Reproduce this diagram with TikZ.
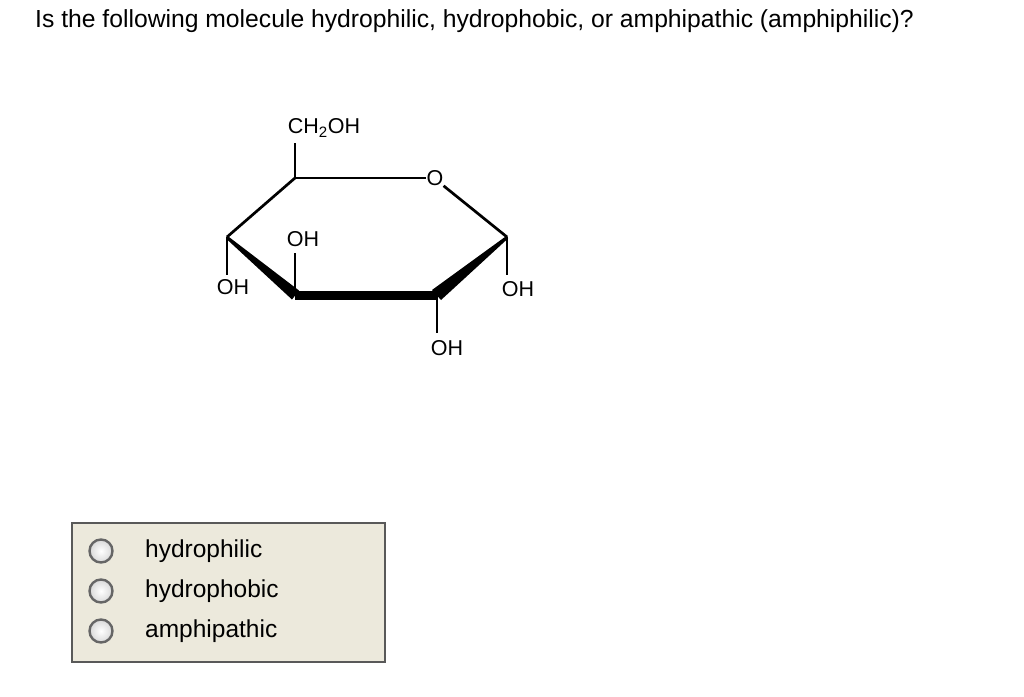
\documentclass[tikz,border=0pt]{standalone}
\usepackage{fontspec}
\setmainfont{Liberation Sans}
\begin{document}
\begin{tikzpicture}[x=1pt,y=-1pt,
  lbl/.style={inner sep=0pt,font=\fontsize{21.5}{24}\selectfont},
  opt/.style={inner sep=0pt,anchor=west,font=\fontsize{24.5}{27}\selectfont},
  bond/.style={line width=2.7pt},
  radio/.style={circle,minimum size=23pt,inner sep=0pt,draw=gray!80!black,line width=2.4pt,inner color=white,outer color=gray!30}]
\useasboundingbox (0,0) rectangle (1024,696);
\node[anchor=west,inner sep=0pt,font=\fontsize{24.7}{28}\selectfont] (title) at (35,21) {Is the following molecule hydrophilic, hydrophobic, or amphipathic (amphiphilic)?};
% ring atoms
\coordinate (c5) at (295,178);
\node[lbl] (o) at (435,178) {O};
\coordinate (c1) at (507,237);
\coordinate (c2) at (437,295);
\coordinate (c3) at (295,295);
\coordinate (c4) at (227,237);
\node[lbl] (ch) at (324,128) {CH\textsubscript{2}OH};
\node[lbl] (oh4) at (233,287) {OH};
\node[lbl] (oh3) at (303,239) {OH};
\node[lbl] (oh2) at (447,348) {OH};
\node[lbl] (oh1) at (518,289) {OH};
\coordinate (t5) at (295,143);
\coordinate (t4) at (227,275);
\coordinate (t3) at (295,253);
\coordinate (t2) at (437,333);
\coordinate (t1) at (507,275);
\draw[bond] (c5) -- (o.west);
\draw[bond] (o.south east) -- (c1);
\draw[bond] (c5) -- (c4);
\draw[bond] (c5) -- (t5);
\draw[bond] (c4) -- (t4);
\draw[bond] (c3) -- (t3);
\draw[bond] (c2) -- (t2);
\draw[bond] (c1) -- (t1);
% wedges
\fill (227,235.5) -- (299,290.5) -- (292,299.5) -- (226,238.5) -- cycle;
\fill (295,290.5) -- (437,290.5) -- (437,299.5) -- (295,299.5) -- cycle;
\fill (432,290) -- (507,235.5) -- (508,238.5) -- (441,300) -- cycle;
% answer box
\draw[draw=gray!70!black,line width=1.5pt,fill={rgb,255:red,236;green,233;blue,220}] (72,523) rectangle (385,662);
\node[radio] (r1) at (101,551) {};
\node[radio] (r2) at (101,591) {};
\node[radio] (r3) at (101,631) {};
\node[opt] (a1) at (145,551) {hydrophilic};
\node[opt] (a2) at (145,591) {hydrophobic};
\node[opt] (a3) at (145,631) {amphipathic};
\end{tikzpicture}
\end{document}
